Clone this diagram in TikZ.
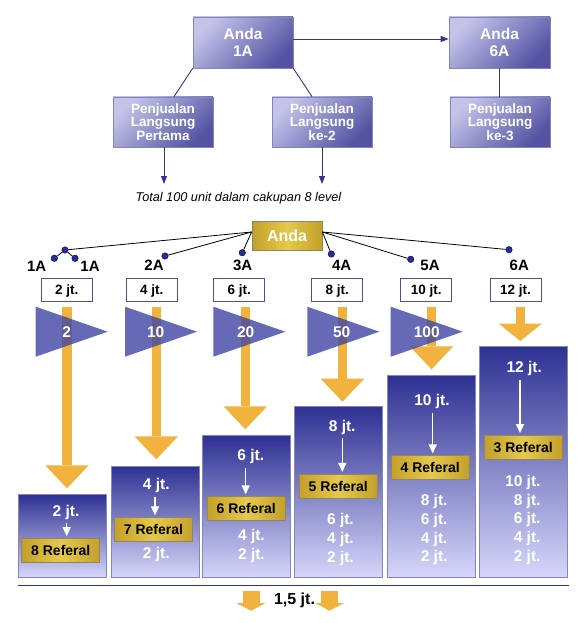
\documentclass[tikz,border=0pt]{standalone}
\usepackage{fontspec}
\setmainfont{Liberation Sans}
\usetikzlibrary{arrows.meta,calc}
\definecolor{topL}{HTML}{C4C4EA}
\definecolor{topR}{HTML}{5353A3}
\definecolor{topB}{HTML}{8585B5}
\definecolor{bxT}{HTML}{2E3192}
\definecolor{bxB}{HTML}{D6D6FA}
\definecolor{bxE}{HTML}{8286BA}
\definecolor{gldA}{HTML}{C4A02A}
\definecolor{gldB}{HTML}{E4C94C}
\definecolor{gldE}{HTML}{8E8664}
\definecolor{orng}{HTML}{F2B23E}
\definecolor{tric}{HTML}{4044A3}
\definecolor{lnb}{HTML}{343490}
\definecolor{dotc}{HTML}{2A2E8A}
\begin{document}
\begin{tikzpicture}[x=1pt,y=-1pt,
  topbox/.style={draw=topB, line width=0.7pt, left color=topL, right color=topR, shading angle=45,
    text=white, font=\bfseries\fontsize{15.5}{16.7}\selectfont, align=center,
    minimum width=100pt, minimum height=51pt, inner sep=0pt},
  pjbox/.style={topbox, font=\bfseries\fontsize{13.5}{13.8}\selectfont, minimum height=50pt},
  conn/.style={draw=lnb, line width=0.9pt},
  connarr/.style={conn, -{Triangle[width=6pt,length=8pt]}},
  itl/.style={font=\itshape\fontsize{12.7}{12.7}\selectfont, inner sep=0pt, anchor=base},
  andabox/.style={draw=gldE, line width=0.8pt, left color=gldA, right color=gldA, middle color=gldB,
    text=white, font=\bfseries\fontsize{16}{16}\selectfont, minimum width=70pt, minimum height=29pt,
    inner sep=0pt, text height=11.5pt, text depth=0pt},
  dotn/.style={circle, fill=dotc, draw=black!60!blue, line width=0.4pt, inner sep=0pt, minimum size=6.5pt},
  wire/.style={draw=black, line width=0.8pt},
  lbl/.style={font=\bfseries\fontsize{15}{15}\selectfont, inner sep=0pt, text height=10.7pt, text depth=0pt},
  valbox/.style={draw=bxT!85, line width=0.9pt, fill=white, minimum width=51pt, minimum height=23.5pt,
    inner sep=0pt, font=\bfseries\fontsize{13.5}{13.5}\selectfont, text height=9.7pt, text depth=0pt},
  trist/.style={fill=tric, fill opacity=0.8},
  num/.style={text=white, font=\bfseries\fontsize{15.5}{15.5}\selectfont, inner sep=0pt, text height=11.1pt, text depth=0pt},
  barr/.style={draw=orng, line width=9.5pt, -{Triangle[width=43.5pt,length=23pt,line width=0pt]}},
  barrs/.style={draw=orng, line width=9.5pt, -{Triangle[width=43.5pt,length=17.5pt,line width=0pt]}},
  sarr/.style={draw=orng, line width=17pt, -{Triangle[width=28.5pt,length=7.5pt,line width=0pt]}},
  bigbox/.style={draw=bxE, line width=0.8pt, top color=bxT, bottom color=bxB, anchor=north west,
    minimum width=88pt, inner sep=0pt},
  wtxt/.style={text=white, font=\bfseries\fontsize{15.5}{18.7}\selectfont, inner sep=0pt},
  one/.style={wtxt, text height=11.1pt, text depth=0pt},
  lst/.style={wtxt, align=right, anchor=north east},
  refbox/.style={draw=gldE, line width=0.8pt, left color=gldA, right color=gldA, middle color=gldB,
    font=\bfseries\fontsize{14}{14}\selectfont, minimum width=78pt, minimum height=24pt, inner sep=0pt,
    text height=10pt, text depth=0pt},
  warr/.style={draw=white, line width=1.5pt, -{Triangle[width=8pt,length=9pt]}, shorten <=7pt, shorten >=2pt},
  sepl/.style={draw=bxT, line width=1.3pt},
  blk/.style={font=\bfseries\fontsize{16}{16}\selectfont, inner sep=0pt, text height=11.5pt, text depth=0pt}
]
\fill[white] (0,0) rectangle (587,623);
\useasboundingbox (0,0) rectangle (587,623);

% ---- top tree ----
\node[topbox] (a1) at (243,42.5) {Anda\\1A};
\node[topbox, minimum width=101pt] (a6) at (499.5,42.5) {Anda\\6A};
\node[pjbox] (p1) at (163,122) {Penjualan\\Langsung\\Pertama};
\node[pjbox] (p2) at (322,122) {Penjualan\\Langsung\\ke-2};
\node[pjbox] (p3) at (500,122) {Penjualan\\Langsung\\ke-3};
\draw[conn] (a1.south west) -- ($(p1.north)+(11,0)$);
\draw[conn] (a1.south east) -- ($(p2.north)+(-10,0)$);
\draw[conn] (a6.south) -- (a6.south |- p3.north);
\draw[connarr] ($(a1.east)+(0,-3.5)$) -- ($(a6.west)+(0,-3.5)$);
\coordinate (q1) at (164,184);
\coordinate (q2) at (322,184);
\draw[connarr] ($(p1.south)+(1,0)$) -- (q1);
\draw[connarr] (p2.south) -- (q2);
\node[itl] (tot) at (238.5,201.7) {Total 100 unit dalam cakupan 8 level};

% ---- Anda with wires ----
\node[andabox] (an) at (287,235.5) {Anda};
\node[dotn] (d1) at (65,250) {};
\node[dotn] (d1a) at (54.3,258.3) {};
\node[dotn] (d1b) at (75,258.3) {};
\node[dotn] (d2) at (165,256) {};
\node[dotn] (d3) at (242.3,252.7) {};
\node[dotn] (d4) at (331.3,254) {};
\node[dotn] (d5) at (410.7,259.3) {};
\node[dotn] (d6) at (509,249.7) {};
\coordinate (wl) at ($(an.west)+(0,-3.5)$);
\coordinate (wr) at ($(an.east)+(0,-3.5)$);
\draw[wire] (wl) -- (d1);
\draw[wire] (wl) -- (d2);
\draw[wire] (wl) -- (d3);
\draw[wire] (wr) -- (d4);
\draw[wire] (wr) -- (d5);
\draw[wire] (wr) -- (d6);
\draw[wire] (d1) -- (d1a);
\draw[wire] (d1) -- (d1b);

\node[lbl] (l1a) at (36.7,265.7) {1A};
\node[lbl] (l1b) at (90,265.7) {1A};
\node[lbl] (l2) at (154,265.5) {2A};
\node[lbl] (l3) at (242.7,265.5) {3A};
\node[lbl] (l4) at (341.7,265) {4A};
\node[lbl] (l5) at (430,265) {5A};
\node[lbl] (l6) at (519.3,265) {6A};

\node[valbox] (v1) at (66.7,290) {2 jt.};
\node[valbox] (v2) at (151.7,290) {4 jt.};
\node[valbox] (v3) at (239.2,290) {6 jt.};
\node[valbox] (v4) at (337.2,290) {8 jt.};
\node[valbox] (v5) at (426.2,290) {10 jt.};
\node[valbox] (v6) at (515.5,290) {12 jt.};

% ---- orange arrows ----
\coordinate (oa1) at (67,306.7);    \coordinate (ob1) at (67,488.3);
\coordinate (oa2) at (156.3,306.7); \coordinate (ob2) at (156.3,459.3);
\coordinate (oa3) at (245.3,306.7); \coordinate (ob3) at (245.3,429.3);
\coordinate (oa4) at (342.5,306.7); \coordinate (ob4) at (342.5,401.7);
\coordinate (oa5) at (431.5,306.7); \coordinate (ob5) at (431.5,369.3);
\coordinate (oa6) at (520.3,306.7); \coordinate (ob6) at (520.3,341);
\draw[barr] (oa1) -- (ob1);
\draw[barr] (oa2) -- (ob2);
\draw[barr] (oa3) -- (ob3);
\draw[barr] (oa4) -- (ob4);
\draw[barr] (oa5) -- (ob5);
\draw[barrs] (oa6) -- (ob6);

% ---- triangles ----
\fill[trist] (35.7,306.7) -- (107.7,331.7) -- (35.7,356.7) -- cycle;
\fill[trist] (125,306.7) -- (197,331.7) -- (125,356.7) -- cycle;
\fill[trist] (213.3,306.7) -- (285.3,331.7) -- (213.3,356.7) -- cycle;
\fill[trist] (307.3,306.7) -- (379.3,331.7) -- (307.3,356.7) -- cycle;
\fill[trist] (390.7,306.7) -- (462.7,331.7) -- (390.7,356.7) -- cycle;
\node[num] (n1) at (66.7,331.7) {2};
\node[num] (n2) at (155.7,331.7) {10};
\node[num] (n3) at (245.7,331.7) {20};
\node[num] (n4) at (341.7,331.7) {50};
\node[num] (n5) at (426.7,331.7) {100};

% ---- bottom boxes ----
\node[bigbox, minimum height=82.7pt] (b1) at (17.7,494) {};
\node[bigbox, minimum height=111pt] (b2) at (111,465.7) {};
\node[bigbox, minimum height=141.7pt] (b3) at (202.3,435) {};
\node[bigbox, minimum height=170.7pt] (b4) at (294,406) {};
\node[bigbox, minimum height=201.7pt] (b5) at (386.7,375) {};
\node[bigbox, minimum height=231pt] (b6) at (479,345.7) {};

\node[one] (t1) at (66,510.7) {2 jt.};
\node[one] (t2) at (156.3,484) {4 jt.};
\node[one] (t3) at (250.8,455) {6 jt.};
\node[one] (t4) at (342.2,425.7) {8 jt.};
\node[one] (t5) at (432,400) {10 jt.};
\node[one] (t6) at (524.2,367.3) {12 jt.};

\node[refbox] (g1) at (60.8,550.5) {8 Referal};
\node[refbox] (g2) at (153.5,529.7) {7 Referal};
\node[refbox] (g3) at (246.2,508.7) {6 Referal};
\node[refbox] (g4) at (338.3,486.3) {5 Referal};
\node[refbox] (g5) at (430.2,467.8) {4 Referal};
\node[refbox] (g6) at (523.2,447.5) {3 Referal};

\draw[warr] ($(t1.south)+(0.7,0)$) -- ($(t1.south |- g1.north)+(0.7,0)$);
\draw[warr] ($(t2.south)+(-1.3,0)$) -- ($(t2.south |- g2.north)+(-1.3,0)$);
\draw[warr] ($(t3.south)+(-5.1,0)$) -- ($(t3.south |- g3.north)+(-5.1,0)$);
\draw[warr] ($(t4.south)+(0.1,0)$) -- ($(t4.south |- g4.north)+(0.1,0)$);
\draw[warr] ($(t5.south)+(0.7,0)$) -- ($(t5.south |- g5.north)+(0.7,0)$);
\draw[warr] ($(t6.south)+(-4.2,0)$) -- ($(t6.south |- g6.north)+(-4.2,0)$);

\node[one] (k2) at (156.3,553.3) {2 jt.};
\node[lst] (k3) at (265,529.45) {4 jt.\\2 jt.};
\node[lst] (k4) at (354,513.45) {6 jt.\\4 jt.\\2 jt.};
\node[lst] (k5) at (447.7,494.45) {8 jt.\\6 jt.\\4 jt.\\2 jt.};
\node[lst] (k6) at (540.7,475.15) {10 jt.\\8 jt.\\6 jt.\\4 jt.\\2 jt.};

% ---- bottom ----
\coordinate (sl) at (17.7,585.5);
\coordinate (sr) at (569.3,585.5);
\draw[sepl] (sl) -- (sr);
\node[blk] (ofv) at (294.5,598.5) {1,5 jt.};
\coordinate (ba1) at (251,590.7); \coordinate (bb1) at (251,610.7);
\coordinate (ba2) at (329.5,590.7); \coordinate (bb2) at (329.5,610.7);
\draw[sarr] (ba1) -- (bb1);
\draw[sarr] (ba2) -- (bb2);
\end{tikzpicture}
\end{document}
